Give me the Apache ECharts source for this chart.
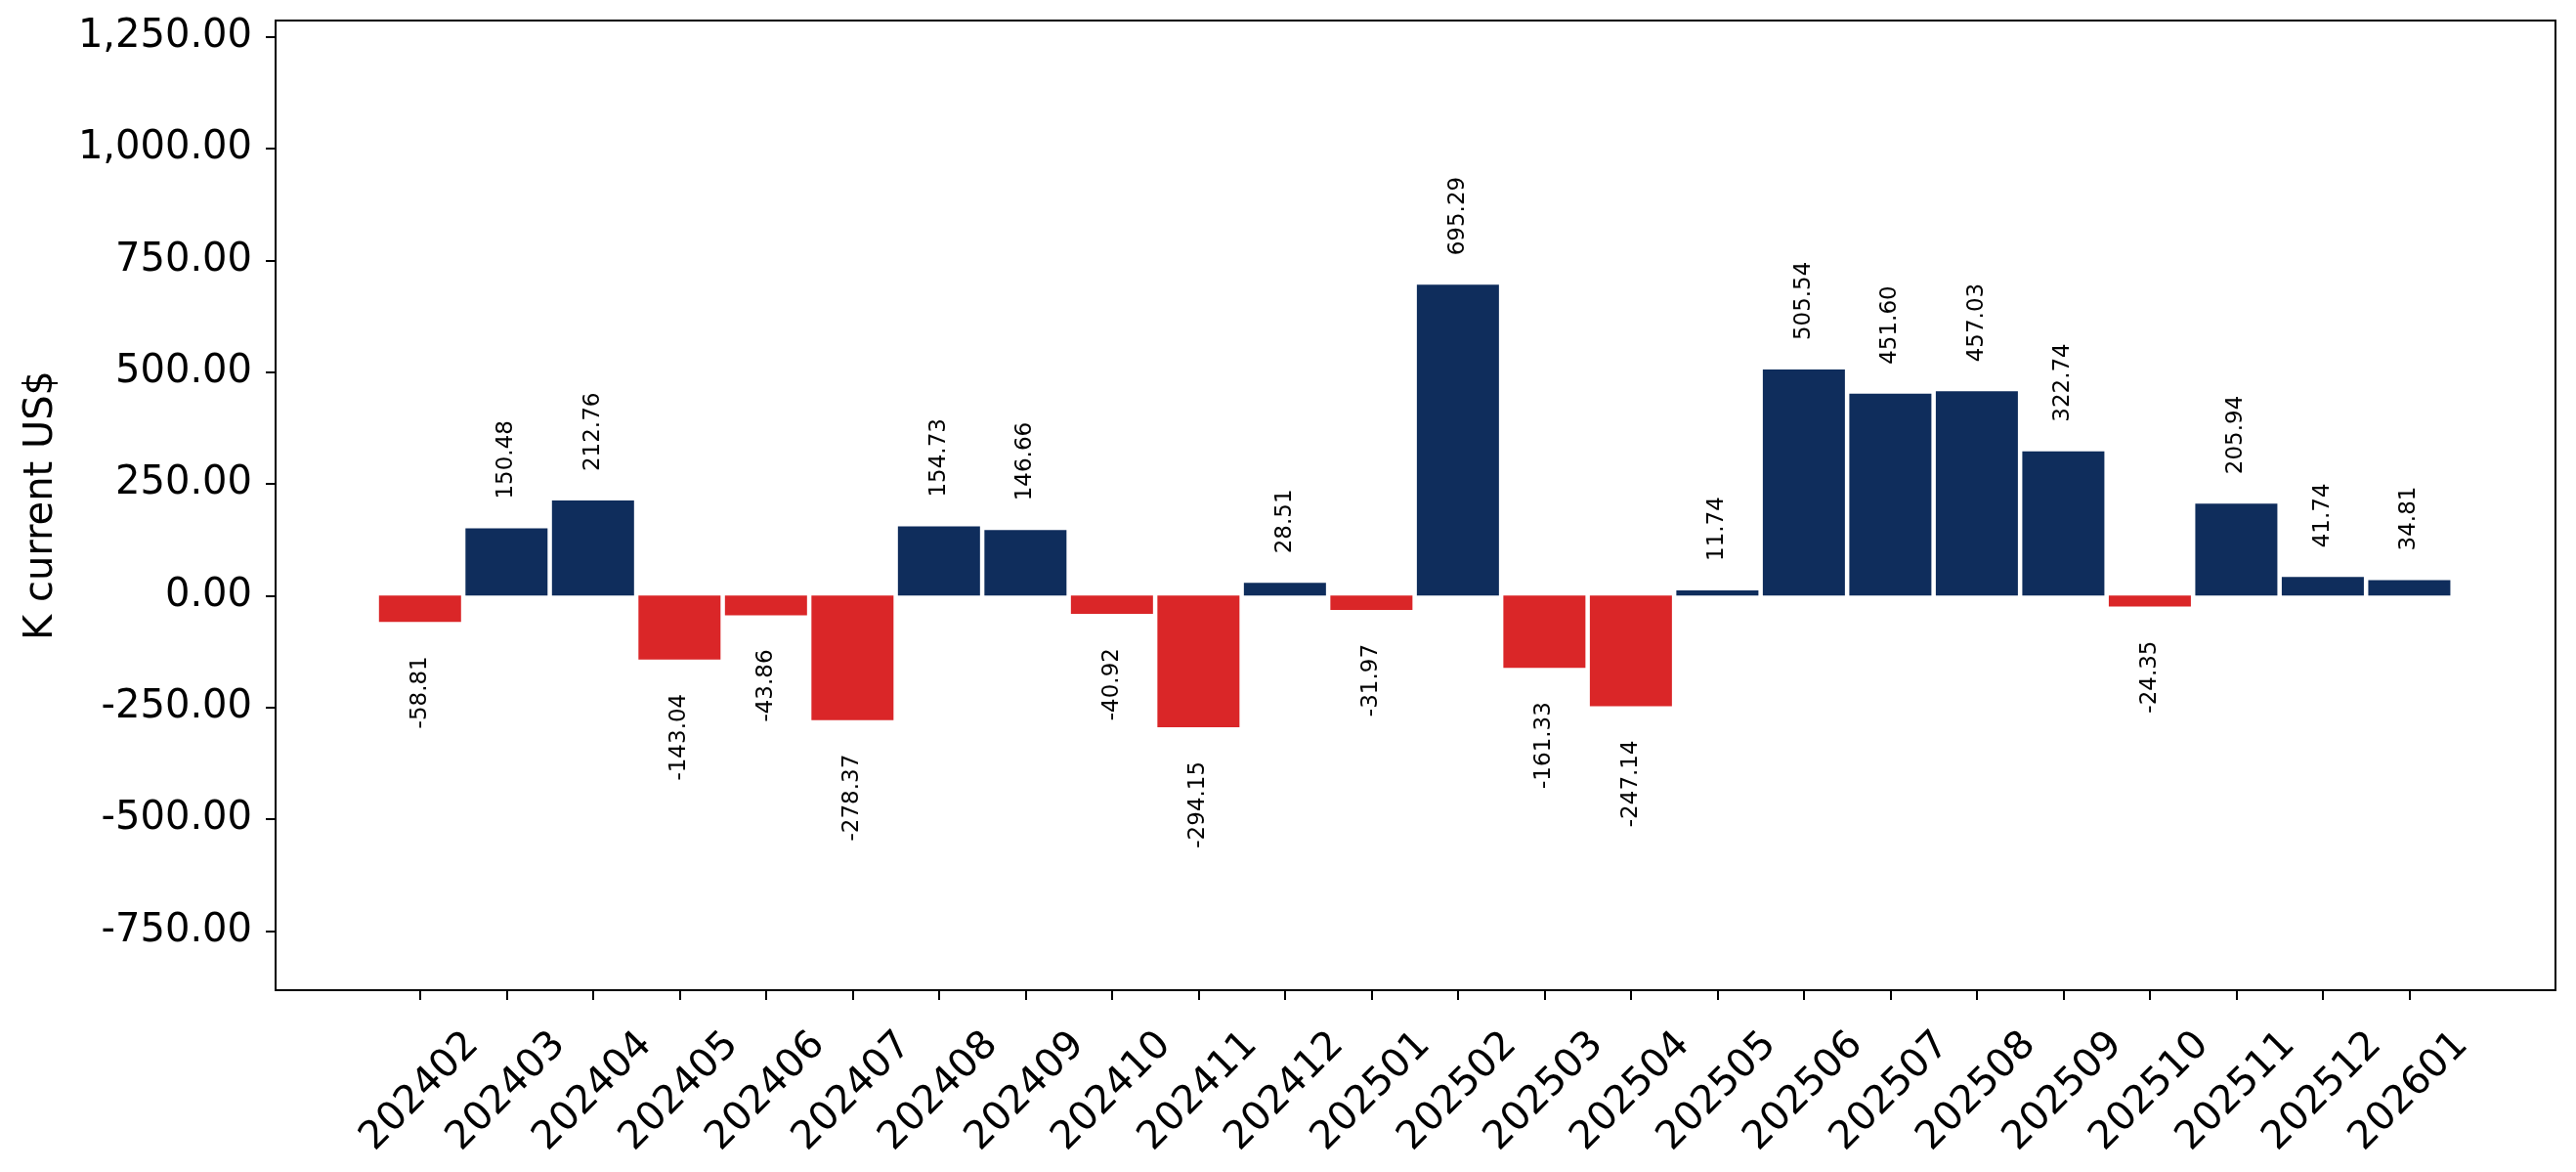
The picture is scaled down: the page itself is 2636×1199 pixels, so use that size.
<!DOCTYPE html>
<html>
<head>
<meta charset="utf-8">
<script src="https://cdn.jsdelivr.net/npm/echarts@6/dist/echarts.min.js"></script>
<style>
  html, body { margin: 0; padding: 0; background: #fff; }
  #chart { width: 2636px; height: 1199px; }
</style>
</head>
<body>
<div id="chart"></div>
<script>
// monthly values, K current US$
const months = ["202402", "202403", "202404", "202405", "202406", "202407",
  "202408", "202409", "202410", "202411", "202412", "202501",
  "202502", "202503", "202504", "202505", "202506", "202507",
  "202508", "202509", "202510", "202511", "202512", "202601"]
const values = [-58.81, 150.48, 212.76, -143.04, -43.86, -278.37,
  154.73, 146.66, -40.92, -294.15, 28.51, -31.97,
  695.29, -161.33, -247.14, 11.74, 505.54, 451.60,
  457.03, 322.74, -24.35, 205.94, 41.74, 34.81]
const yTicks = [-750, -500, -250, 0, 250, 500, 750, 1000, 1250]

const POS = "#0F2D5C", NEG = "#DA2628"
const FONT = "DejaVu Sans"

let xIdx = months.map((m, i) => i)

let barData = values.map((v, i) => {
    let up = v >= 0
    return {
        value: [i, v],
        itemStyle: { color: up ? POS : NEG },
        label: up ? {
            position: "top", distance: 30, align: "left"
        } : {
            position: "bottom", distance: 35, align: "right"
        }
    }
})

function fmtY(v) {
    return v.toLocaleString("en-US", { minimumFractionDigits: 2, maximumFractionDigits: 2 })
}

let chart = echarts.init(document.getElementById("chart"))
chart.setOption({
    animation: false,
    backgroundColor: "#fff",
    grid: {
        left: 282, right: 21, top: 21, bottom: 186,
        show: true, borderColor: "#000", borderWidth: 2,
        containLabel: false
    },
    xAxis: {
        type: "value",
        min: -1.67, max: 24.69,
        splitLine: { show: false },
        axisLine: { show: true, onZero: false, lineStyle: { color: "#000", width: 2 } },
        axisTick: {
            show: true, inside: false, length: 10,
            lineStyle: { color: "#000", width: 2 },
            customValues: xIdx
        },
        axisLabel: {
            customValues: xIdx,
            formatter: v => months[Math.round(v)],
            rotate: 45,
            align: "center",
            verticalAlign: "middle",
            margin: 104,
            fontSize: 40,
            fontFamily: FONT,
            color: "#000"
        }
    },
    yAxis: {
        type: "value",
        min: -882.45, max: 1286.29,
        name: "K current US$",
        nameLocation: "middle",
        nameRotate: 90,
        nameGap: 219,
        nameTextStyle: { fontSize: 40, fontFamily: FONT, color: "#000" },
        splitLine: { show: false },
        axisLine: { show: true, onZero: false, lineStyle: { color: "#000", width: 2 } },
        axisTick: {
            show: true, inside: false, length: 10,
            lineStyle: { color: "#000", width: 2 },
            customValues: yTicks
        },
        axisLabel: {
            customValues: yTicks,
            formatter: fmtY,
            margin: 24,
            fontSize: 40,
            fontFamily: FONT,
            color: "#000"
        }
    },
    series: [{
        type: "bar",
        data: barData,
        barWidth: 84,
        label: {
            show: true,
            rotate: 90,
            verticalAlign: "middle",
            fontSize: 23,
            fontFamily: FONT,
            color: "#000",
            formatter: p => p.value[1].toFixed(2)
        }
    }]
})
</script>
</body>
</html>
